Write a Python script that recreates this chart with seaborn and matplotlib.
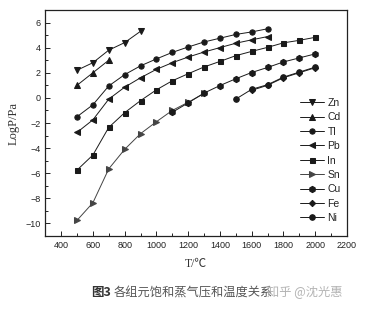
import matplotlib
matplotlib.use("Agg")
import matplotlib.pyplot as plt
import seaborn as sns
import pandas as pd
from matplotlib.ticker import MultipleLocator

# ---- data ----
names = ["Zn", "Cd", "Tl", "Pb", "In", "Sn", "Cu", "Fe", "Ni"]
zn_t = [500, 600, 700, 800, 900]
zn_p = [2.2, 2.8, 3.8, 4.4, 5.3]
cd_t = [500, 600, 700]
cd_p = [1.0, 2.0, 3.0]
tl_t = [500, 600, 700, 800, 900, 1000, 1100, 1200, 1300, 1400, 1500, 1600, 1700]
tl_p = [-1.5, -0.55, 0.95, 1.85, 2.55, 3.1, 3.62, 4.05, 4.45, 4.75, 5.05, 5.25, 5.5]
pb_t = [500, 600, 700, 800, 900, 1000, 1100, 1200, 1300, 1400, 1500, 1600, 1700]
pb_p = [-2.75, -1.75, -0.1, 0.85, 1.6, 2.27, 2.8, 3.25, 3.65, 4.0, 4.35, 4.62, 4.88]
in_t = [500, 600, 700, 800, 900, 1000, 1100, 1200, 1300, 1400, 1500, 1600, 1700, 1800, 1900, 2000]
in_p = [-5.75, -4.55, -2.35, -1.18, -0.22, 0.64, 1.36, 1.92, 2.46, 2.9, 3.36, 3.7, 4.02, 4.38, 4.58, 4.82]
sn_t = [500, 600, 700, 800, 900, 1000, 1100, 1200, 1300]
sn_p = [-9.75, -8.35, -5.65, -4.1, -2.85, -1.9, -1.0, -0.35, 0.35]
cu_t = [1100, 1200, 1300, 1400, 1500, 1600, 1700, 1800, 1900, 2000]
cu_p = [-1.15, -0.4, 0.38, 0.98, 1.52, 2.02, 2.42, 2.86, 3.18, 3.5]
fe_t = [1600, 1700, 1800, 1900, 2000]
fe_p = [0.6, 1.0, 1.6, 2.0, 2.4]
ni_t = [1500, 1600, 1700, 1800, 1900, 2000]
ni_p = [-0.1, 0.68, 1.05, 1.65, 2.05, 2.45]

series = {
    "Zn": (zn_t, zn_p), "Cd": (cd_t, cd_p), "Tl": (tl_t, tl_p),
    "Pb": (pb_t, pb_p), "In": (in_t, in_p), "Sn": (sn_t, sn_p),
    "Cu": (cu_t, cu_p), "Fe": (fe_t, fe_p), "Ni": (ni_t, ni_p),
}
markers = {"Zn": "v", "Cd": "^", "Tl": "o", "Pb": "<", "In": "s",
           "Sn": ">", "Cu": "h", "Fe": "D", "Ni": "o"}
msizes = {"Zn": 4.5, "Cd": 4.5, "Tl": 3.8, "Pb": 4.5, "In": 3.6,
          "Sn": 4.5, "Cu": 4.5, "Fe": 3.2, "Ni": 4.0}
colors = {n: "#1a1a1a" for n in names}
colors["Sn"] = "#444444"

sns.set_style("ticks")
fig = plt.figure(figsize=(3.71, 3.11), dpi=100)
ax = fig.add_axes([0.122, 0.241, 0.813, 0.727])

for n in names:
    t, p = series[n]
    df = pd.DataFrame({"T": t, "P": p})
    sns.lineplot(data=df, x="T", y="P", ax=ax, color=colors[n], lw=0.7,
                 marker=markers[n], markersize=msizes[n],
                 markeredgecolor=colors[n], label=n)

ax.set_xlim(300, 2200)
ax.set_ylim(-11, 7)
ax.xaxis.set_major_locator(MultipleLocator(200))
ax.xaxis.set_minor_locator(MultipleLocator(100))
ax.yaxis.set_major_locator(MultipleLocator(2))
ax.yaxis.set_minor_locator(MultipleLocator(1))
ax.tick_params(which="both", direction="in", top=False, right=False,
               labelsize=6.5, width=0.7, colors="#222222")
ax.tick_params(which="major", length=3.5)
ax.tick_params(which="minor", length=2)
for s in ax.spines.values():
    s.set_linewidth(0.9)
    s.set_color("#222222")
for lab in ax.get_xticklabels() + ax.get_yticklabels():
    lab.set_fontfamily("Liberation Sans")

ax.set_xlabel("T/℃", fontsize=8.5, family=["Liberation Serif", "Noto Sans CJK SC"],
              labelpad=6, color="#333333")
ax.set_ylabel("LogP/Pa", fontsize=9, family="Liberation Serif",
              labelpad=4, color="#333333")

leg = ax.legend(loc="lower right", bbox_to_anchor=(1.0, 0.03), frameon=False,
                fontsize=7.5, handlelength=2.3, handletextpad=0.3,
                labelspacing=0.42, borderaxespad=0.2)
for txt in leg.get_texts():
    txt.set_fontfamily("Liberation Sans")
    txt.set_color("#222222")

fig.text(0.245, 0.048, "图3", fontsize=9, fontweight="bold",
         family=["Noto Sans CJK SC", "DejaVu Sans"], color="#333333")
fig.text(0.305, 0.048, "各组元饱和蒸气压和温度关系", fontsize=8.8,
         family=["Noto Sans CJK SC", "DejaVu Sans"], color="#555555")
fig.text(0.72, 0.048, "知乎 @沈光惠", fontsize=8.8,
         family=["Noto Sans CJK SC", "DejaVu Sans"], color="#aaaaaa", alpha=0.9)

fig.savefig("out.png", dpi=100, facecolor="white")
